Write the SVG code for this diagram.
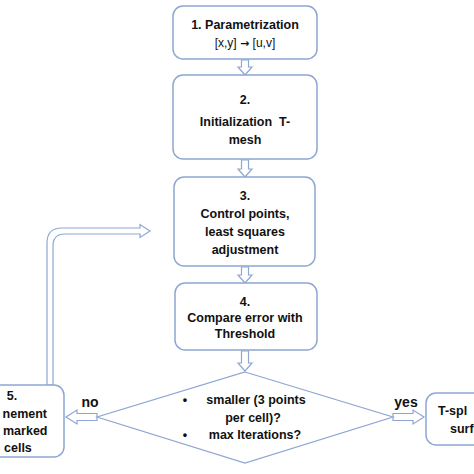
<svg xmlns="http://www.w3.org/2000/svg" width="474" height="474" viewBox="0 0 474 474">
<style>
.box{fill:#fff;stroke:#8ea7d2;stroke-width:1.5}
.dia{fill:#fff;stroke:#8ea7d2;stroke-width:1.2}
.arr{fill:#fff;stroke:#8ea7d2;stroke-width:1.2;stroke-linejoin:miter}
text{font-family:"Liberation Sans",Arial,sans-serif;font-size:12.5px;font-weight:bold;fill:#111;text-anchor:middle}
.reg{font-weight:normal;font-size:12px}
.lbl{font-size:14px}
.st{text-anchor:start}
.en{text-anchor:end}
</style>
<rect width="474" height="474" fill="#fff"/>
<g id="connectors">
<path class="arr" d="M241.5,60 H248.5 V67 H252 L245,75 L238,67 H241.5 Z"/>
<path class="arr" d="M241.5,160 H248.5 V169 H252 L245,177 L238,169 H241.5 Z"/>
<path class="arr" d="M241.5,267 H248.5 V275 H252 L245,283 L238,275 H241.5 Z"/>
<path class="arr" d="M241.5,351 H248.5 V363 H252 L245,371 L238,363 H241.5 Z"/>
<path class="arr" d="M97,413.5 V420.5 H77 V424 L66,417 L77,410 V413.5 Z"/>
<path class="arr" d="M393,413.5 V420.5 H413 V424 L424,417 L413,410 V413.5 Z"/>
<path class="arr" d="M47,385 V243 Q47,228 62,228 H140 V224.5 L150,231 L140,237.5 V234 H65 Q53,234 53,246 V385 Z"/>
<text class="lbl" x="90" y="407">no</text>
<text class="lbl" x="406" y="407">yes</text>
</g>
<g id="node1">
<rect class="box" x="173" y="6" width="144" height="53" rx="10"/>
<text x="245" y="29">1. Parametrization</text>
<text class="reg" x="245" y="47">[x,y] <tspan font-family="DejaVu Sans" font-weight="bold" font-size="11">→</tspan> [u,v]</text>
</g>
<g id="node2">
<rect class="box" x="173" y="75" width="144" height="84" rx="10"/>
<text x="245" y="104">2.</text>
<text x="245" y="126" xml:space="preserve">Initialization  T-</text>
<text x="245" y="144">mesh</text>
</g>
<g id="node3">
<rect class="box" x="174" y="177" width="141" height="89" rx="10"/>
<text x="245" y="200">3.</text>
<text x="245" y="218">Control points,</text>
<text x="245" y="236">least squares</text>
<text x="245" y="254">adjustment</text>
</g>
<g id="node4">
<rect class="box" x="175" y="283" width="142" height="67" rx="10"/>
<text x="245" y="306">4.</text>
<text x="245" y="322">Compare error with</text>
<text x="245" y="338">Threshold</text>
</g>
<g id="decision">
<path class="dia" d="M245,372 L393,417 L245,463 L97,417 Z"/>
<text x="185" y="404">•</text>
<text x="256" y="404">smaller (3 points</text>
<text x="253" y="422">per cell)?</text>
<text x="185" y="439">•</text>
<text x="255" y="439">max Iterations?</text>
</g>
<g id="node5">
<rect class="box" x="-45" y="385" width="109" height="72" rx="10"/>
<text x="12" y="400">5.</text>
<text class="en" x="47" y="418">nement</text>
<text class="st" x="3" y="435">marked</text>
<text class="st" x="4" y="452">cells</text>
</g>
<g id="node6">
<rect class="box" x="426" y="393" width="90" height="52" rx="10"/>
<text class="st" x="438" y="415">T-spl</text>
<text class="st" x="450" y="433">surf</text>
</g>
</svg>
